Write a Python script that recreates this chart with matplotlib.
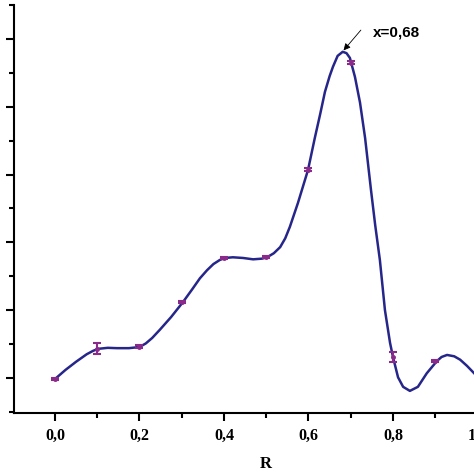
import matplotlib
matplotlib.use("Agg")
import matplotlib.pyplot as plt
from matplotlib.ticker import MultipleLocator, FixedLocator

# measured points with error bars
r_points = [0.0, 0.1, 0.2, 0.3, 0.4, 0.5, 0.6, 0.7, 0.8, 0.9]
y_points = [0.985, 1.43, 1.46, 2.12, 2.77, 2.78, 4.07, 5.65, 1.31, 1.25]
y_errors = [0.01, 0.08, 0.02, 0.02, 0.015, 0.015, 0.02, 0.02, 0.075, 0.015]

# smooth fitted curve
curve_r = [0.000, 0.025, 0.050, 0.075, 0.090, 0.102, 0.125, 0.147, 0.175, 0.190,
           0.201, 0.215, 0.230, 0.248, 0.275, 0.303, 0.325, 0.343, 0.360, 0.375,
           0.390, 0.402, 0.421, 0.445, 0.469, 0.490, 0.502, 0.518, 0.533, 0.545,
           0.556, 0.575, 0.599, 0.615, 0.628, 0.639, 0.650, 0.658, 0.669, 0.681,
           0.690, 0.698, 0.710, 0.722, 0.734, 0.748, 0.758, 0.769, 0.781, 0.793,
           0.800, 0.812, 0.824, 0.840, 0.859, 0.880, 0.904, 0.915, 0.928, 0.945,
           0.959, 0.975, 0.989, 1.000]
curve_y = [0.985, 1.12, 1.24, 1.35, 1.40, 1.43, 1.445, 1.44, 1.44, 1.45,
           1.46, 1.51, 1.59, 1.71, 1.90, 2.12, 2.31, 2.47, 2.59, 2.68,
           2.74, 2.77, 2.78, 2.77, 2.75, 2.76, 2.78, 2.84, 2.93, 3.06,
           3.23, 3.58, 4.07, 4.54, 4.90, 5.22, 5.45, 5.59, 5.75, 5.81,
           5.79, 5.72, 5.44, 5.06, 4.54, 3.77, 3.25, 2.74, 2.00, 1.52,
           1.31, 1.01, 0.87, 0.81, 0.87, 1.07, 1.25, 1.31, 1.34, 1.32,
           1.27, 1.18, 1.09, 1.02]

x_ticks = [0.0, 0.2, 0.4, 0.6, 0.8, 1.0]
x_tick_labels = ["0,0", "0,2", "0,4", "0,6", "0,8", "1,0"]
x_label = "R"
annotation_text = "x=0,68"
peak_r, peak_y = 0.683, 5.83

fig = plt.figure(figsize=(4.74, 4.74), dpi=100)
ax = fig.add_axes([14/474, 61/474, 484.6/474, 408/474])

ax.plot(curve_r, curve_y, color="#26268a", lw=1.8, zorder=2,
        solid_joinstyle="round", solid_capstyle="round")
ax.errorbar(r_points, y_points, yerr=y_errors, fmt="o", ms=2.5, color="#8a2a8a",
            ecolor="#8a2a8a", elinewidth=1.5, capsize=3.2, capthick=1.5, zorder=3)

ax.set_xlim(-0.097, 1.05)
ax.set_ylim(0.484, 6.50)

ax.spines["top"].set_visible(False)
ax.spines["right"].set_visible(False)
for s in ("left", "bottom"):
    ax.spines[s].set_linewidth(1.5)

ax.set_xticks(x_ticks)
ax.set_xticklabels(x_tick_labels, fontfamily="Liberation Serif", fontweight="bold", fontsize=11.5)
ax.xaxis.set_minor_locator(FixedLocator([0.1, 0.3, 0.5, 0.7, 0.9]))
ax.yaxis.set_major_locator(MultipleLocator(1))
ax.yaxis.set_minor_locator(MultipleLocator(0.5))
ax.set_yticklabels([])
ax.tick_params(axis="both", which="major", direction="out", length=6, width=1.5, pad=5)
ax.tick_params(axis="both", which="minor", direction="out", length=3.5, width=1.5)

ax.set_xlabel(x_label, fontfamily="Liberation Serif", fontweight="bold", fontsize=12)
ax.xaxis.set_label_coords((266 - 14) / 484.6, -0.105)

ax.annotate("", xy=(peak_r, peak_y), xytext=(0.724, 6.13),
            arrowprops=dict(arrowstyle="-|>", color="black", lw=0.6,
                            mutation_scale=10, shrinkA=0, shrinkB=0))
ax.text(0.753, 6.10, annotation_text, fontfamily="Liberation Sans", fontweight="bold",
        fontsize=11, va="center", ha="left")

fig.savefig("out.png", dpi=100)
